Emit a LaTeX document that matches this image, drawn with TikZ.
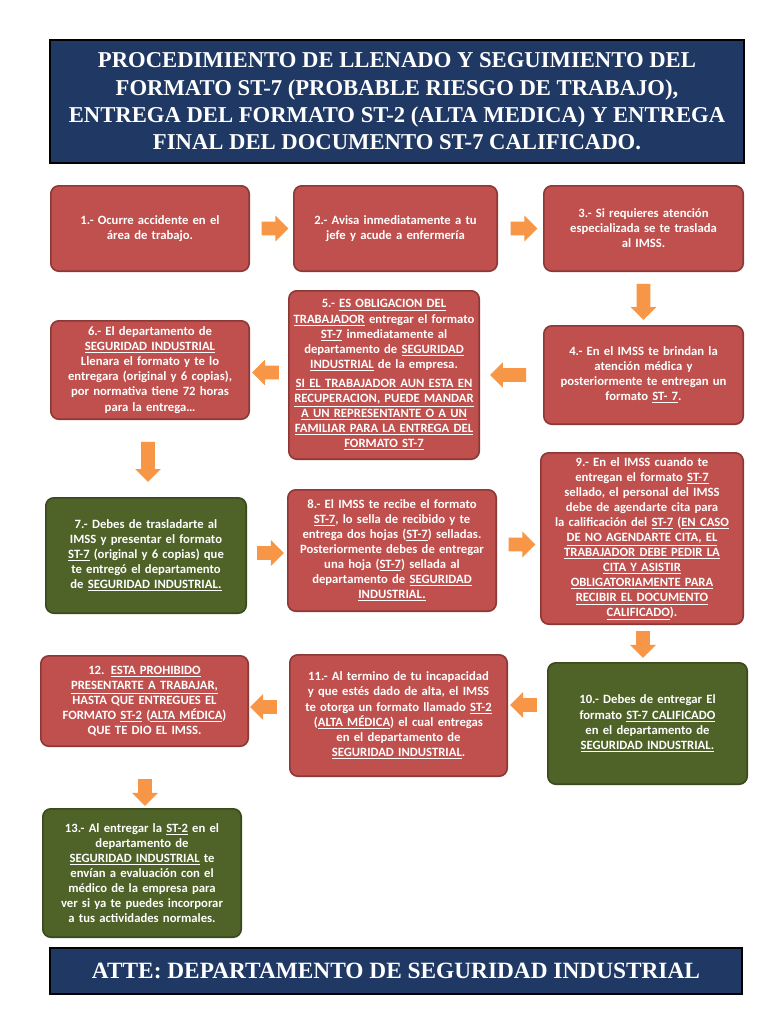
\documentclass[tikz,border=0pt]{standalone}
\usepackage{fontspec}
\setmainfont{Liberation Serif}
\newfontfamily\boxfont{Carlito}
\usetikzlibrary{shapes.arrows,calc}
\definecolor{navy}{HTML}{1F3864}
\definecolor{redbox}{HTML}{C0504D}
\definecolor{redline}{HTML}{8C3836}
\definecolor{greenbox}{HTML}{4F6228}
\definecolor{greenline}{HTML}{3A4A1C}
\definecolor{arr}{HTML}{F79646}
\newcommand{\ul}[1]{\underline{#1}}
\tikzset{
 rbox/.style={draw=redline,line width=1.2pt,fill=redbox,rounded corners=6pt,text=white,font=\boxfont\bfseries\fontsize{9.5}{11.3}\selectfont,align=center,inner sep=1pt},
 gbox/.style={rbox,draw=greenline,fill=greenbox},
 banner/.style={draw=black,line width=1pt,fill=navy,text=white,align=center},
 blk/.style={single arrow,fill=arr,draw=none,minimum height=#1,single arrow head extend=4.5pt,inner sep=5pt},
}
\newcommand{\boxat}[6]{\node[#1,minimum width=#4*0.75pt-1.2pt,minimum height=#5*0.75pt-1.2pt,text width=#4*0.75pt-6pt] (#2) at (#3) {#6};}
\begin{document}
\begin{tikzpicture}[x=0.75pt,y=-0.75pt]
\useasboundingbox[fill=white] (0,0) rectangle (768,1024);
\node[banner,minimum width=694*0.75pt,minimum height=123*0.75pt,font=\bfseries\fontsize{17}{20.5}\selectfont] (title) at (397,101.5) {PROCEDIMIENTO DE LLENADO Y SEGUIMIENTO DEL\\FORMATO ST-7 (PROBABLE RIESGO DE TRABAJO),\\ENTREGA DEL FORMATO ST-2 (ALTA MEDICA) Y ENTREGA\\FINAL DEL DOCUMENTO ST-7 CALIFICADO.};
\node[banner,minimum width=692*0.75pt,minimum height=46*0.75pt,font=\bfseries\fontsize{17.5}{20}\selectfont] (foot) at (396,971) {ATTE: DEPARTAMENTO DE SEGURIDAD INDUSTRIAL};

\boxat{rbox}{b1}{150,228.5}{200}{87}{1.- Ocurre accidente en el\\área de trabajo.}
\boxat{rbox}{b2}{395.5,228.5}{205}{87}{2.- Avisa inmediatamente a tu\\jefe y acude a enfermería}
\boxat{rbox}{b3}{643.5,228.5}{201}{87}{3.- Si requieres atención\\especializada se te traslada\\al IMSS.}
\boxat{rbox}{b4}{643.5,375}{201}{100}{4.- En el IMSS te brindan la\\atención médica y\\posteriormente te entregan un\\formato \ul{ST- 7}.}
\boxat{rbox}{b5}{384,375}{192}{170}{5.- \ul{ES OBLIGACION DEL}\\\ul{TRABAJADOR} entregar el formato\\\ul{ST-7} inmediatamente al\\departamento de \ul{SEGURIDAD}\\\ul{INDUSTRIAL} de la empresa.\\[3pt]\ul{SI EL TRABAJADOR AUN ESTA EN}\\\ul{RECUPERACION, PUEDE MANDAR}\\\ul{A UN REPRESENTANTE O A UN}\\\ul{FAMILIAR PARA LA ENTREGA DEL}\\\ul{FORMATO ST-7}}
\boxat{rbox}{b6}{150,370}{200}{100}{6.- El departamento de\\\ul{SEGURIDAD INDUSTRIAL}\\Llenara el formato y te lo\\entregara (original y 6 copias),\\por normativa tiene 72 horas\\para la entrega…}
\boxat{gbox}{b7}{146,555.5}{202}{117}{7.- Debes de trasladarte al\\IMSS y presentar el formato\\\ul{ST-7} (original y 6 copias) que\\te entregó el departamento\\de \ul{SEGURIDAD INDUSTRIAL.}}
\boxat{rbox}{b8}{392,550.5}{210}{123}{8.- El IMSS te recibe el formato\\\ul{ST-7}, lo sella de recibido y te\\entrega dos hojas (\ul{ST-7}) selladas.\\Posteriormente debes de entregar\\una hoja (\ul{ST-7}) sellada al\\departamento de \ul{SEGURIDAD}\\\ul{INDUSTRIAL.}}
\boxat{rbox}{b9}{642,538.5}{204}{173}{9.- En el IMSS cuando te\\entregan el formato \ul{ST-7}\\sellado, el personal del IMSS\\debe de agendarte cita para\\la calificación del \ul{ST-7} (\ul{EN CASO}\\\ul{DE NO AGENDARTE CITA, EL}\\\ul{TRABAJADOR DEBE PEDIR LA}\\\ul{CITA Y ASISTIR}\\\ul{OBLIGATORIAMENTE PARA}\\\ul{RECIBIR EL DOCUMENTO}\\\ul{CALIFICADO}).}
\boxat{gbox}{b10}{647.5,723.5}{201}{123}{10.- Debes de entregar El\\formato \ul{ST-7 CALIFICADO}\\en el departamento de\\\ul{SEGURIDAD INDUSTRIAL.}}
\boxat{rbox}{b11}{398.5,715.5}{219}{123}{11.- Al termino de tu incapacidad\\y que estés dado de alta, el IMSS\\te otorga un formato llamado \ul{ST-2}\\(\ul{ALTA MÉDICA}) el cual entregas\\en el departamento de\\\ul{SEGURIDAD INDUSTRIAL}.}
\boxat{rbox}{b12}{144.5,701}{209}{92}{12. \ul{ESTA PROHIBIDO}\\\ul{PRESENTARTE A TRABAJAR,}\\HASTA QUE ENTREGUES EL\\FORMATO \ul{ST-2} (\ul{ALTA MÉDICA})\\QUE TE DIO EL IMSS.}
\boxat{gbox}{b13}{142,873}{200}{130}{13.- Al entregar la \ul{ST-2} en el\\departamento de\\\ul{SEGURIDAD INDUSTRIAL} te\\envían a evaluación con el\\médico de la empresa para\\ver si ya te puedes incorporar\\a tus actividades normales.}

\node[blk=20pt,shape border rotate=0] (a12) at ($(b1.east)!0.5!(b2.west)$) {};
\node[blk=20pt,shape border rotate=0] (a23) at ($(b2.east)!0.5!(b3.west)$) {};
\node[blk=27pt,shape border rotate=270] (a34) at ($(b3.south)!0.5!(b4.north)$) {};
\node[blk=27pt,shape border rotate=180] (a45) at ($(b5.east)!0.5!(b4.west)$) {};
\node[blk=20pt,shape border rotate=180] (a56) at ($(b6.east)!0.5!(b5.west)$) {};
\node[blk=30pt,shape border rotate=270] (a67) at ($(b6.south)!0.5!(b7.north)$) {};
\node[blk=20pt,shape border rotate=0] (a78) at ($(b7.east)!0.5!(b8.west)$) {};
\node[blk=20pt,shape border rotate=0] (a89) at ($(b8.east)!0.5!(b9.west)$) {};
\node[blk=20pt,shape border rotate=270] (a910) at (643,641) {};
\node[blk=20pt,shape border rotate=180] (a1011) at (527,705) {};
\node[blk=20pt,shape border rotate=180] (a1112) at (267,707) {};
\node[blk=20pt,shape border rotate=270] (a1213) at (145,789) {};
\end{tikzpicture}
\end{document}
